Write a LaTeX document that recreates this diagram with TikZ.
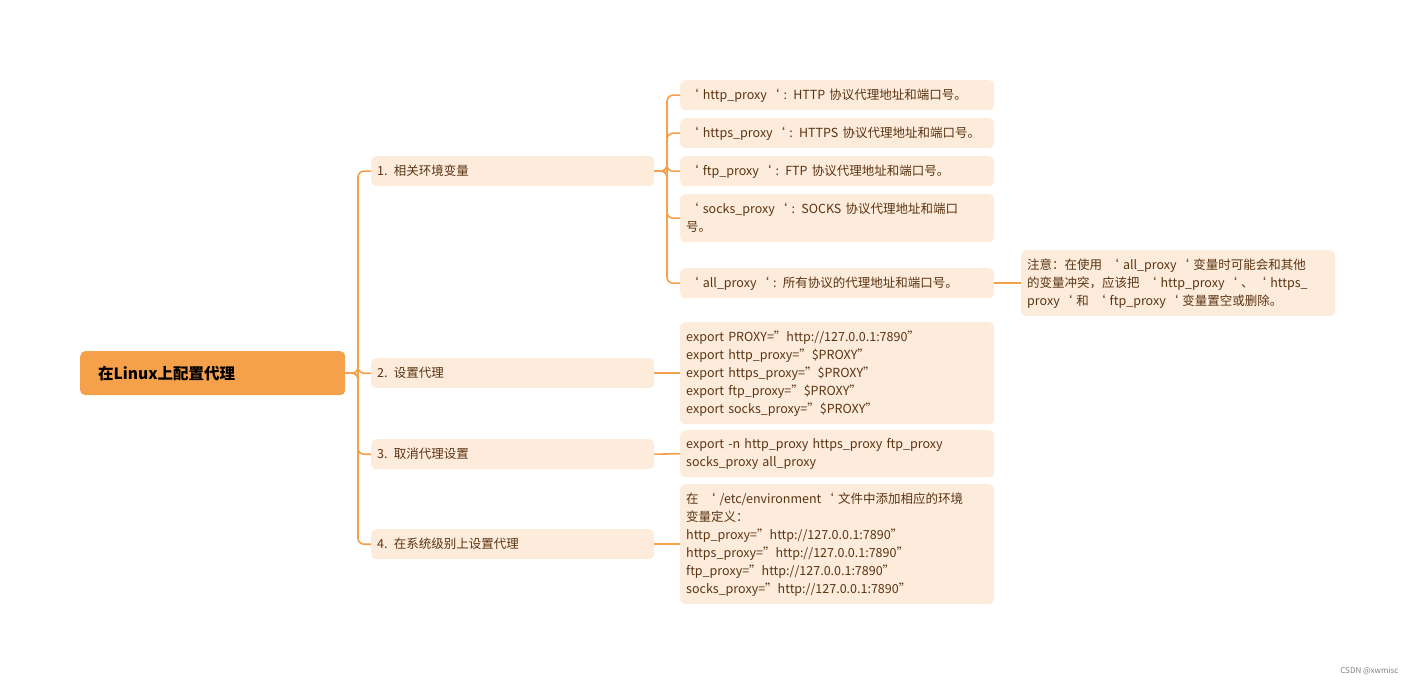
\documentclass[tikz,border=0pt]{standalone}
\usepackage{fontspec}
\setmainfont{Noto Sans CJK SC}
\newcommand\bq{\char96}
\definecolor{lc}{HTML}{F5A04A}
\definecolor{bx}{HTML}{FDEBDC}
\definecolor{tx}{HTML}{5A3512}
\begin{document}
\begin{tikzpicture}[x=1pt,y=-1pt,
  lvl/.style={fill=bx,rounded corners=5pt,anchor=north west,inner xsep=6pt,inner ysep=0pt,align=left,text=tx,font=\fontsize{12.5}{18}\selectfont},
  lone/.style={lvl,text width=271pt,minimum height=30pt},
  ltwo/.style={lvl,text width=302pt},
  con/.style={draw=lc,line width=1.6pt,rounded corners=6pt}]
\useasboundingbox (0,0) rectangle (1415,684);
\node[fill=lc,rounded corners=5pt,anchor=north west,minimum width=265pt,minimum height=44pt,inner xsep=18pt,text width=229pt,align=left,font=\fontsize{15.5}{18}\selectfont\bfseries] (root) at (80,351) {在Linux上配置代理};
\node[lone] (a) at (371,156) {1. 相关环境变量};
\node[lone] (b) at (371,358) {2. 设置代理};
\node[lone] (c) at (371,439) {3. 取消代理设置};
\node[lone] (d) at (371,529) {4. 在系统级别上设置代理};
\node[ltwo,minimum height=30pt] (a1) at (680,80) {\bq\ http\_proxy\bq\ : HTTP 协议代理地址和端口号。};
\node[ltwo,minimum height=30pt] (a2) at (680,118) {\bq\ https\_proxy\bq\ : HTTPS 协议代理地址和端口号。};
\node[ltwo,minimum height=30pt] (a3) at (680,156) {\bq\ ftp\_proxy\bq\ : FTP 协议代理地址和端口号。};
\node[ltwo,minimum height=48pt] (a4) at (680,194) {\bq\ socks\_proxy\bq\ : SOCKS 协议代理地址和端口\\号。};
\node[ltwo,minimum height=30pt] (a5) at (680,268) {\bq\ all\_proxy\bq\ : 所有协议的代理地址和端口号。};
\node[ltwo,minimum height=66pt] (n) at (1021,250) {注意：在使用 \bq\ all\_proxy\bq\ 变量时可能会和其他\\的变量冲突，应该把 \bq\ http\_proxy\bq\ 、\bq\ https\_\\proxy\bq\ 和 \bq\ ftp\_proxy\bq\ 变量置空或删除。};
\node[ltwo,minimum height=102pt] (b1) at (680,322) {export PROXY="http://127.0.0.1:7890"\\export http\_proxy="\$PROXY"\\export https\_proxy="\$PROXY"\\export ftp\_proxy="\$PROXY"\\export socks\_proxy="\$PROXY"};
\node[ltwo,minimum height=47pt] (c1) at (680,430) {export -n http\_proxy https\_proxy ftp\_proxy\\socks\_proxy all\_proxy};
\node[ltwo,minimum height=120pt] (d1) at (680,484) {在 \bq\ /etc/environment\bq\ 文件中添加相应的环境\\变量定义：\\http\_proxy="http://127.0.0.1:7890"\\https\_proxy="http://127.0.0.1:7890"\\ftp\_proxy="http://127.0.0.1:7890"\\socks\_proxy="http://127.0.0.1:7890"};
\node[anchor=south east,text=gray,font=\fontsize{8}{10}\selectfont] (w) at (1402,678) {CSDN @xwmisc};
\coordinate (j1) at (358,373);
\coordinate (j2) at (667,171);
\foreach \t in {a,b,c,d} \draw[con] (root.east) -- (j1) |- (\t.west);
\foreach \t in {a1,a2,a3,a4,a5} \draw[con] (a.east) -- (j2) |- (\t.west);
\draw[con] (b.east) -- (b1.west);
\draw[con] (c.east) -- (c1.west);
\draw[con] (d.east) -- (d1.west);
\draw[con] (a5.east) -- (n.west);
\end{tikzpicture}
\end{document}
